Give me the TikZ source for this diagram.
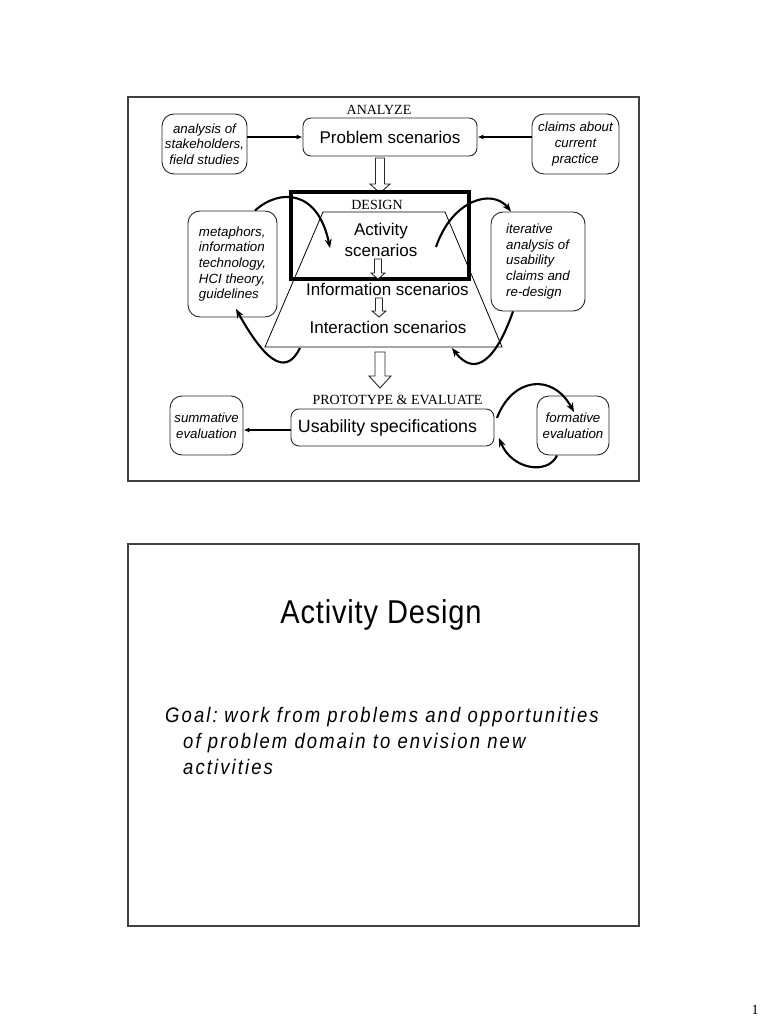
\documentclass[tikz,border=0pt]{standalone}
\usepackage{fontspec}
\setmainfont{Liberation Serif}
\setsansfont{Liberation Sans}
\newfontfamily\slidefont[FakeStretch=0.88,LetterSpace=10]{Liberation Sans}
\newfontfamily\titlefont[FakeStretch=0.88,LetterSpace=2.5]{Liberation Sans}
\usetikzlibrary{arrows.meta}
\newcommand\hollowarr[6]{%
  \draw[hollow] (#1-#5,#2) -- (#1+#5,#2) -- (#1+#5,#3) -- (#1+#6,#3) -- (#1,#4) -- (#1-#6,#3) -- (#1-#5,#3) -- cycle;}
\tikzset{
  box/.style={draw=black!85, line width=0.9pt, rounded corners=8pt, inner sep=0pt, font=\sffamily\fontsize{17}{20}\selectfont},
  note/.style={draw=black!85, line width=0.9pt, rounded corners=12pt, inner sep=0pt, font=\sffamily\itshape\fontsize{13.3}{15.7}\selectfont},
  lbl/.style={font=\fontsize{14}{16}\selectfont, inner sep=0pt},
  scen/.style={font=\sffamily\fontsize{17}{21}\selectfont, align=center, inner sep=0pt},
  link/.style={-{Latex[length=6pt,width=5pt]}, line width=1.3pt},
  loopy/.style={-{Stealth[length=9pt,width=7pt]}, line width=2.1pt},
  hollow/.style={draw=black!85, line width=0.9pt, fill=white},
  frame/.style={draw=black!75, line width=1.4pt},
}
\begin{document}
\begin{tikzpicture}[x=1pt,y=-1pt]
\useasboundingbox (0,0) rectangle (768,1024);
\fill[white] (0,0) rectangle (768,1024);

% ---------- slide 1: diagram ----------
\draw[frame] (128,97) rectangle (639,481);

\node[lbl] (analyze) at (379,110) {ANALYZE};
\node[box, minimum width=174pt, minimum height=38pt] (prob) at (390,137) {Problem scenarios};
\node[note, align=center, minimum width=85pt, minimum height=60pt] (stake) at (204.5,144)
  {analysis of\\stakeholders,\\field studies};
\node[note, align=center, minimum width=87pt, minimum height=60pt] (claims) at (575.5,144)
  {claims about\\current\\practice};

\draw[link] (stake.east |- prob.west) -- (prob.west);
\draw[link] (claims.west |- prob.east) -- (prob.east);

% trapezoid of design scenarios
\draw[line width=0.8pt, fill=white] (323,212) -- (445,212) -- (502,347) -- (265,347) -- cycle;

\node[note, align=left, minimum width=89pt, minimum height=106pt] (meta) at (232.5,264)
  {metaphors,\\information\\technology,\\HCI theory,\\guidelines};
\node[note, align=left, minimum width=94pt, minimum height=99pt] (iter) at (538,261.5)
  {iterative\\analysis of\\usability\\claims and\\re-design};

\hollowarr{380}{158}{184}{193}{4.5}{10}

\node[draw, line width=4pt, minimum width=178pt, minimum height=87pt, inner sep=0pt] (dsg) at (380,235.5) {};
\node[lbl] (design) at (377,205) {DESIGN};

\node[scen] (act) at (381,240) {Activity\\scenarios};
\hollowarr{378}{259}{273}{279}{3.5}{7}
\node[scen] (info) at (387.5,289) {Information scenarios};
\hollowarr{379}{298}{311}{317}{3.5}{7}
\node[scen] (inter) at (388,327) {Interaction scenarios};

\hollowarr{380}{352}{376}{388}{5}{11}

\node[lbl] (proto) at (397.5,400) {PROTOTYPE \& EVALUATE};
\node[box, minimum width=203pt, minimum height=37pt, font=\sffamily\fontsize{17.8}{20}\selectfont] (usab) at (392.5,427.5)
  {\hspace*{-10pt}Usability specifications};
\node[note, align=center, minimum width=73pt, minimum height=59pt] (summ) at (206.5,425.5)
  {summative\\evaluation};
\node[note, align=center, minimum width=72pt, minimum height=59pt] (form) at (573,425.5)
  {formative\\evaluation};

\draw[link] ([yshift=-2.5pt]usab.west) -- ([yshift=-2.5pt]summ.east |- usab.west);

% curved feedback connectors
\coordinate (actin) at (330,248);
\coordinate (actout) at (436,247);
\coordinate (trapL) at (300,348);
\coordinate (trapR) at (452,348);
\coordinate (metain) at (236,309);
\coordinate (formin) at (574,412);

\draw[loopy] ([xshift=22.5pt]meta.north) .. controls (280,188) and (318,190) .. (actin);
\draw[loopy] (actout) .. controls (452,200) and (492,188) .. ([xshift=-27pt]iter.north);
\draw[loopy] (trapL) .. controls (288,372) and (270,370) .. (metain);
\draw[loopy] ([xshift=-25pt]iter.south) .. controls (496,360) and (475,378) .. (trapR);
\draw[loopy] ([xshift=2.5pt,yshift=9.5pt]usab.east) .. controls (512,378) and (552,372) .. (formin);
\draw[loopy] ([xshift=-16pt]form.south) .. controls (548,475) and (512,470) .. ([xshift=4.5pt,yshift=-10.5pt]usab.east);

% ---------- slide 2: text ----------
\draw[frame] (128,544) rectangle (639,926);
\node[inner sep=0pt, anchor=base, font=\titlefont\fontsize{33}{36}\selectfont] (title) at (381,623) {Activity Design};
\node[inner sep=0pt, anchor=base west, font=\slidefont\itshape\fontsize{21}{26}\selectfont] (goal1) at (165,722)
  {Goal:\hspace{-3pt} work from problems and opportunities};
\node[inner sep=0pt, anchor=base west, font=\slidefont\itshape\fontsize{21}{26}\selectfont] (goal2) at (183,748)
  {of problem domain to envision new};
\node[inner sep=0pt, anchor=base west, font=\slidefont\itshape\fontsize{21}{26}\selectfont] (goal3) at (183,774)
  {activities};

\node[inner sep=0pt, font=\fontsize{14}{16}\selectfont] (pageno) at (755,1010) {1};
\end{tikzpicture}
\end{document}
